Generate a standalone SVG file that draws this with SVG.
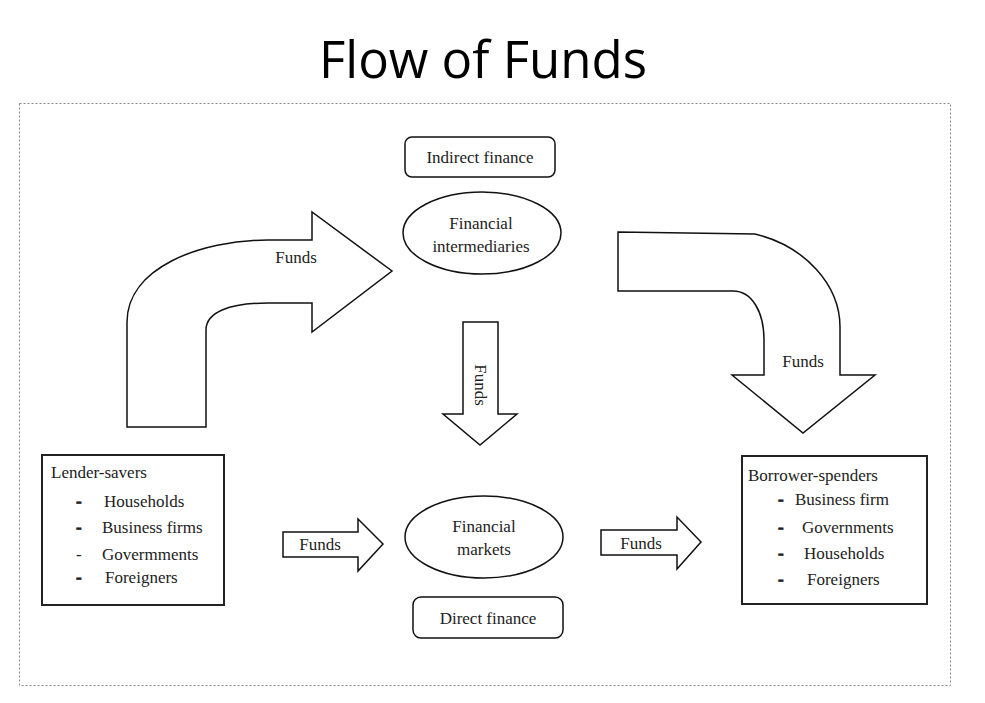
<svg xmlns="http://www.w3.org/2000/svg" width="985" height="703" viewBox="0 0 985 703">
<style>
.t{font-family:"Liberation Serif","Times New Roman",serif;font-size:17px;fill:#222}
.c{text-anchor:middle;dominant-baseline:central}
.s{fill:#fff;stroke:#111;stroke-width:1.5;stroke-linejoin:miter}
.b{fill:#fff;stroke:#222;stroke-width:2}
.bl{font-weight:bold;stroke:#222;stroke-width:0.8}
</style>
<rect width="985" height="703" fill="#fff"/>
<text x="483" y="78" text-anchor="middle" font-family="'Open Sans','Liberation Sans',sans-serif" font-size="51" fill="#000">Flow of Funds</text>
<rect x="19.5" y="103.5" width="931" height="582" fill="none" stroke="#888" stroke-width="1" stroke-dasharray="2,2"/>

<g id="connectors">
  <g id="arrow-lender-to-intermediaries">
    <path class="s" d="M127,427 L127,322 C127,268 200,240 268,240 L312,240 L312,212 L392,271 L312,332 L312,303 L268,303 C230,303 206,312 206,330 L206,427 Z"/>
    <text class="t c" x="296" y="257">Funds</text>
  </g>
  <g id="arrow-intermediaries-to-borrower">
    <path class="s" d="M618,232 L755,234 C805,246 840,285 840,327 L840,375 L875,375 L803,433 L732,375 L764,375 L764,340 C764,312 752,291 733,291 L618,291 Z"/>
    <text class="t c" x="803" y="361">Funds</text>
  </g>
  <g id="arrow-intermediaries-to-markets">
    <path class="s" d="M463,322 L498,322 L498,414 L517,414 L480,445 L443,414 L463,414 Z"/>
    <text class="t c" x="480" y="385" transform="rotate(90 480 385)">Funds</text>
  </g>
  <g id="arrow-lender-to-markets">
    <path class="s" d="M283,532 L358,532 L358,519 L383,544 L358,571 L358,557 L283,557 Z"/>
    <text class="t c" x="320" y="544">Funds</text>
  </g>
  <g id="arrow-markets-to-borrower">
    <path class="s" d="M601,530 L677,530 L677,517 L701,542 L677,569 L677,555 L601,555 Z"/>
    <text class="t c" x="641" y="543">Funds</text>
  </g>
</g>

<g id="indirect-finance">
  <rect class="s" x="405" y="137" width="150" height="40" rx="7"/>
  <text class="t c" x="480" y="157">Indirect finance</text>
</g>
<g id="financial-intermediaries">
  <ellipse class="s" cx="482" cy="233" rx="79" ry="41"/>
  <text class="t c" x="481" y="223">Financial</text>
  <text class="t c" x="481" y="246">intermediaries</text>
</g>
<g id="financial-markets">
  <ellipse class="s" cx="484" cy="537" rx="79" ry="41"/>
  <text class="t c" x="484" y="526">Financial</text>
  <text class="t c" x="484" y="549">markets</text>
</g>
<g id="direct-finance">
  <rect class="s" x="413" y="597" width="150" height="41" rx="8"/>
  <text class="t c" x="488" y="618">Direct finance</text>
</g>
<g id="lender-savers">
  <rect class="b" x="42" y="455" width="182" height="150"/>
  <text class="t" x="51" y="478">Lender-savers</text>
  <text class="t bl" x="76" y="507">-</text>
  <text class="t" x="104" y="507">Households</text>
  <text class="t bl" x="76" y="533">-</text>
  <text class="t" x="102" y="533">Business firms</text>
  <text class="t" x="76" y="560">-</text>
  <text class="t" x="102" y="560">Govermments</text>
  <text class="t bl" x="76" y="583">-</text>
  <text class="t" x="105" y="583">Foreigners</text>
</g>
<g id="borrower-spenders">
  <rect class="b" x="742" y="456" width="185" height="148"/>
  <text class="t" x="748" y="481">Borrower-spenders</text>
  <text class="t bl" x="778" y="505">-</text>
  <text class="t" x="795" y="505">Business firm</text>
  <text class="t bl" x="778" y="533">-</text>
  <text class="t" x="802" y="533">Governments</text>
  <text class="t bl" x="778" y="559">-</text>
  <text class="t" x="804" y="559">Households</text>
  <text class="t bl" x="778" y="585">-</text>
  <text class="t" x="807" y="585">Foreigners</text>
</g>
</svg>
